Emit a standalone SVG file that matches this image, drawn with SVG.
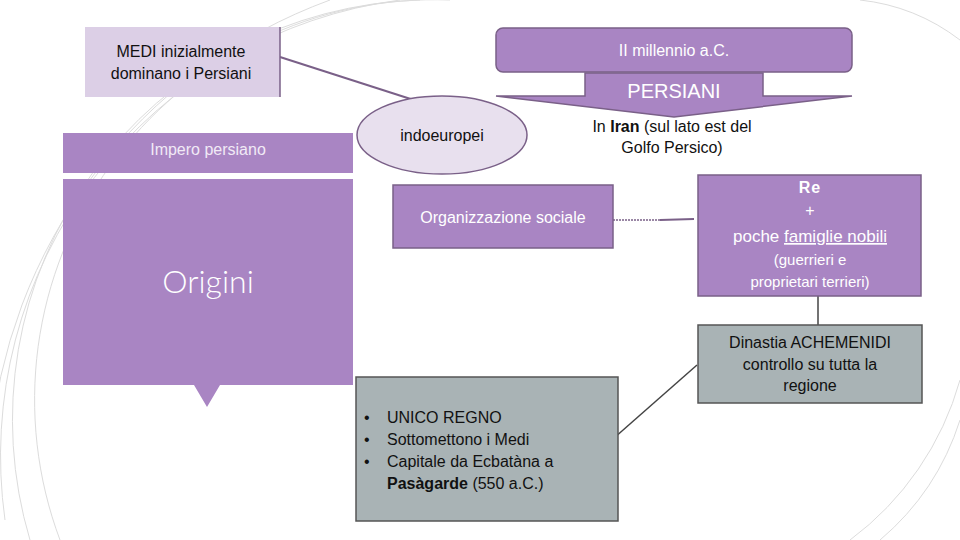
<svg xmlns="http://www.w3.org/2000/svg" width="960" height="540" viewBox="0 0 960 540" font-family="Liberation Sans, Arial, sans-serif">
<style>
text{font-size:16px;text-anchor:middle}
.w{fill:#fff}.k{fill:#111}
.p{fill:#a985c3;stroke:#7a6088;stroke-width:1.5}
.g{fill:#a9b3b5;stroke:#555;stroke-width:1.5}
.arc{fill:none;stroke:#dcdcdc;stroke-width:1}
</style>
<rect width="960" height="540" fill="#fff"/>
<g id="bg">
<path class="arc" d="M30,540 A420,420 0 0 1 420,0"/>
<path class="arc" d="M5,520 A460,460 0 0 1 400,0"/>
<path class="arc" d="M60,540 A400,400 0 0 1 450,0"/>
<path class="arc" d="M-10,450 A520,520 0 0 1 330,0"/>
<path class="arc" d="M850,540 A300,300 0 0 0 960,380"/>
<path class="arc" d="M880,540 A260,260 0 0 0 960,420"/>
<path class="arc" d="M860,0 A200,200 0 0 1 960,40"/>
</g>
<g id="connectors" fill="none">
<line x1="280" y1="57" x2="420" y2="102" stroke="#7a6088" stroke-width="2"/>
<line x1="613" y1="220" x2="660" y2="220" stroke="#7a6088" stroke-width="1.5" stroke-dasharray="2,1"/>
<line x1="660" y1="220" x2="694" y2="219" stroke="#7a6088" stroke-width="2"/>
<line x1="818" y1="296" x2="818" y2="325" stroke="#444" stroke-width="1.5"/>
<line x1="614" y1="438" x2="697" y2="365" stroke="#444" stroke-width="1.5"/>
</g>
<g id="medi">
<rect x="85" y="27" width="195" height="70" fill="#dccfe6"/>
<line x1="280" y1="27" x2="280" y2="97" stroke="#7a6088" stroke-width="1.5"/>
<text class="k" x="181" y="57">MEDI inizialmente</text>
<text class="k" x="181" y="79">dominano i Persiani</text>
</g>
<g id="impero">
<rect x="63" y="133" width="290" height="40" fill="#a985c3"/>
<text x="208" y="155" fill="#f1eaf6">Impero persiano</text>
</g>
<g id="origini">
<path d="M63,179H353V385H220L207,407L194,385H63Z" fill="#a985c3"/>
<text class="w" x="208" y="293" font-size="32" font-family="Lato, Open Sans, sans-serif" font-weight="300" style="font-size:32px">Origini</text>
</g>
<g id="indoeuropei">
<ellipse cx="442" cy="135" rx="85" ry="39" fill="#e8e0ee" stroke="#7a6088" stroke-width="1.5"/>
<text class="k" x="442" y="141">indoeuropei</text>
</g>
<g id="millennio">
<rect x="496" y="28" width="356" height="44" rx="7" class="p"/>
<text class="w" x="674" y="56">II millennio a.C.</text>
</g>
<g id="persiani">
<path d="M585,73H763V96H852L674,117L496,96H585Z" class="p"/>
<text class="w" x="674" y="98" style="font-size:20px">PERSIANI</text>
</g>
<g id="iran">
<text class="k" x="672" y="132">In <tspan font-weight="bold">Iran</tspan> (sul lato est del</text>
<text class="k" x="672" y="153">Golfo Persico)</text>
</g>
<g id="organizzazione">
<rect x="393" y="185" width="220" height="63" class="p"/>
<text class="w" x="503" y="223">Organizzazione sociale</text>
</g>
<g id="re">
<rect x="698" y="175" width="223" height="121" class="p"/>
<text class="w" x="810" y="193" font-weight="bold" letter-spacing="1">Re</text>
<text class="w" x="810" y="216">+</text>
<text class="w" x="810" y="242" style="font-size:17px">poche <tspan text-decoration="underline">famiglie nobili</tspan></text>
<text class="w" x="810" y="265" style="font-size:15px">(guerrieri e</text>
<text class="w" x="810" y="287" style="font-size:15px">proprietari terrieri)</text>
</g>
<g id="dinastia">
<rect x="698" y="325" width="224" height="78" class="g"/>
<text class="k" x="810" y="348">Dinastia ACHEMENIDI</text>
<text class="k" x="810" y="370">controllo su tutta la</text>
<text class="k" x="810" y="391">regione</text>
</g>
<g id="regno">
<rect x="356" y="377" width="262" height="144" class="g"/>
<text class="k" x="364" y="423" style="text-anchor:start">•</text>
<text class="k" x="364" y="445" style="text-anchor:start">•</text>
<text class="k" x="364" y="467" style="text-anchor:start">•</text>
<text class="k" x="387" y="423" style="text-anchor:start">UNICO REGNO</text>
<text class="k" x="387" y="445" style="text-anchor:start">Sottomettono i Medi</text>
<text class="k" x="387" y="467" style="text-anchor:start">Capitale da Ecbatàna a</text>
<text class="k" x="387" y="489" style="text-anchor:start"><tspan font-weight="bold">Pasàgarde</tspan> (550 a.C.)</text>
</g>
</svg>
